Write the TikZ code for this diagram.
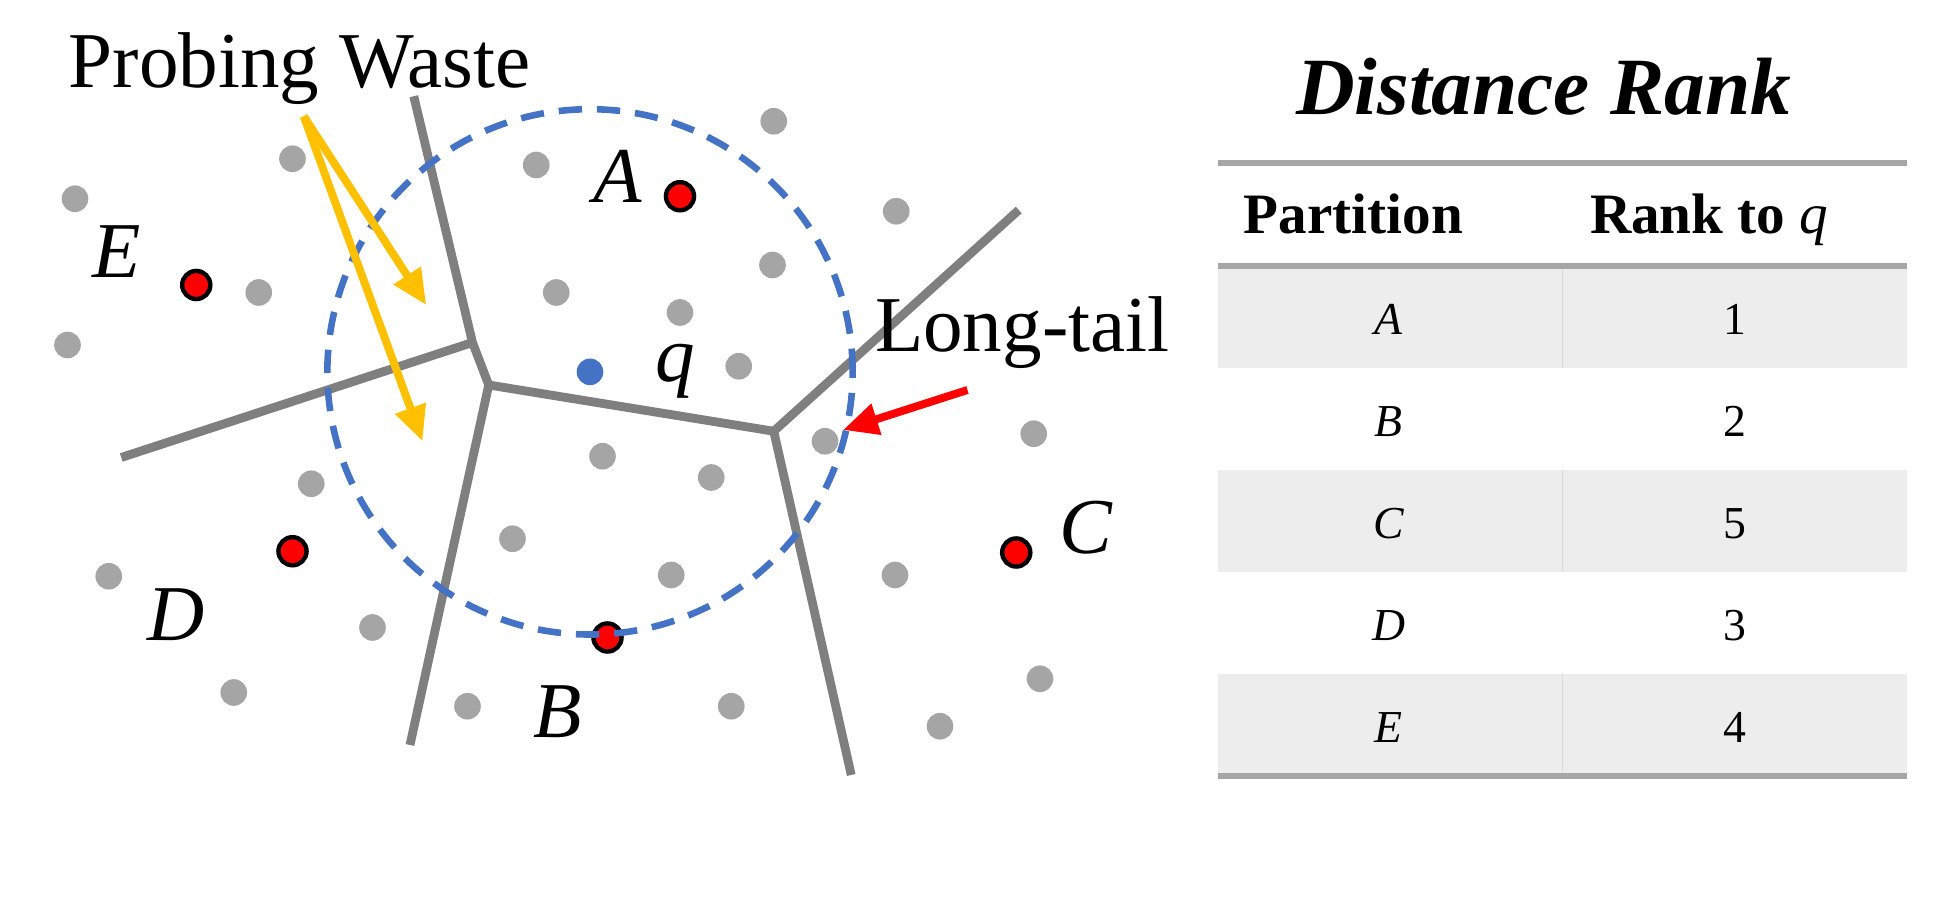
\documentclass[tikz,border=0pt]{standalone}
\usepackage{fontspec}
\setmainfont{Liberation Serif}
\usetikzlibrary{arrows.meta}
\definecolor{wasteyellow}{HTML}{FFC000}
\definecolor{probeblue}{HTML}{4472C4}
\definecolor{tailred}{HTML}{FF0000}
\definecolor{partgray}{HTML}{7F7F7F}
\definecolor{vecgray}{HTML}{A5A5A5}
\definecolor{rulegray}{HTML}{A6A6A6}
\definecolor{rowgray}{HTML}{EDEDED}
\definecolor{divgray}{HTML}{D9D9D9}
\newcommand{\lblfont}{\fontsize{18}{22}\selectfont}
\newcommand{\titlefont}{\fontsize{18.5}{22}\selectfont\bfseries\itshape}
\newcommand{\headfont}{\fontsize{13}{16}\selectfont\bfseries}
\newcommand{\cellfont}{\fontsize{10.4}{13}\selectfont}
\tikzstyle{every node}=[inner sep=0pt, outer sep=0pt]
\tikzset{vecdot/.style={circle, fill=vecgray, minimum size=0.213cm},
  centroid/.style={circle, draw=black, fill=red, line width=1pt, minimum size=0.225cm},
  qdot/.style={circle, fill=probeblue, minimum size=0.213cm},
  partline/.style={draw=partgray, line width=2pt, line join=round},
  probecircle/.style={draw=probeblue, line width=1.5pt, dash pattern=on 5.3pt off 3.4pt},
  waste/.style={draw=wasteyellow, line width=1.8pt, -{Triangle[length=8pt,width=7pt]}},
  tailarrow/.style={draw=tailred, line width=1.8pt, -{Triangle[length=8pt,width=7pt]}},
  lbl/.style={font=\lblfont\itshape},
  tabrule/.style={draw=rulegray, line width=1.4pt}}

\begin{document}
\begin{tikzpicture}[x=0.01cm, y=-0.01cm]
		\useasboundingbox (0,0) rectangle (1568,732.8);
		\foreach \x/\y [count=\i] in {619/97, 234/127, 429/132, 60/159, 717/169, 618/212, 207/234, 445/234, 544/250, 54/276, 591/293, 660/353, 827/347, 482/365, 569/382, 249/387, 410/431, 87/461, 537/460, 716/460, 298/502, 832/543, 187/554, 374/565, 585/565, 752/581}
			\node[vecdot] (g\i) at (\x,\y) {};
		\foreach \n/\x/\y in {A/544/157, B/486/510, C/813/442, D/234/441, E/157/228}
			\node[centroid] (p\n) at (\x,\y) {};
		\path (331,77) coordinate(vtop) (378,274) coordinate(vjoin) (391,308) coordinate(vmid);
		\path (97,366) coordinate(vleft) (328,596) coordinate(vbot);
		\path (619,345) coordinate(vright) (815,168) coordinate(vne) (681,620) coordinate(vse);
		\draw[partline] (vtop) -- (vjoin) -- (vmid) -- (vright) -- (vne);
		\draw[partline] (vleft) -- (vjoin);
		\draw[partline] (vmid) -- (vbot);
		\draw[partline] (vright) -- (vse);
		\node[qdot] (q) at (472,297.5) {};
		\draw[probecircle] (q) circle (2.1cm);
		\node[lbl] (lA) at (494,141) {A};
		\node[lbl] (lB) at (446,569) {B};
		\node[lbl] (lC) at (869,422) {C};
		\node[lbl] (lD) at (141,492) {D};
		\node[lbl] (lE) at (93,201) {E};
		\node[lbl, anchor=base] (lq) at (540.5,305) {q};
		\node[font=\lblfont, anchor=base west] (wastetext) at (55,70) {Probing Waste};
		\node[font=\lblfont, anchor=base west] (tailtext) at (700,281) {Long-tail};
		\path (243,93) coordinate(waste) (341,244) coordinate(waste1) (338,353) coordinate(waste2);
		\draw[waste] (waste) -- (waste1);
		\draw[waste] (waste) -- (waste2);
		\path (774,312) coordinate(tail) (674.4,344) coordinate(tailtip);
		\draw[tailarrow] (tail) -- (tailtip);
		\node[font=\titlefont, anchor=base west] (title) at (1037,92) {Distance Rank};
		\foreach \p/\r [count=\i] in {A/1, B/2, C/5, D/3, E/4}{
			\pgfmathsetmacro{\rowtop}{213+81.5*(\i-1)}
			\pgfmathsetmacro{\rowbot}{\rowtop+81.5}
			\pgfmathsetmacro{\rowbase}{\rowtop+55}
			\ifodd\i
				\fill[rowgray] (974,\rowtop) rectangle (1525.5,\rowbot);
				\draw[divgray, line width=0.4pt] (1250,\rowtop) -- (1250,\rowbot);
			\fi
			\node[font=\cellfont\itshape, anchor=base] (part\p) at (1111,\rowbase) {\p};
			\node[font=\cellfont, anchor=base] (rank\p) at (1388,\rowbase) {\r};
		}
		\node[font=\headfont, anchor=base west] (hpart) at (995,186.7) {Partition};
		\node[font=\headfont, anchor=base west] (hrank) at (1272,186.7) {Rank to {\mdseries\itshape q}};
		\draw[tabrule] (974,130.7) -- (1525.5,130.7);
		\draw[tabrule] (974,212.5) -- (1525.5,212.5);
		\draw[tabrule] (974,621) -- (1525.5,621);
		\end{tikzpicture}
\end{document}
